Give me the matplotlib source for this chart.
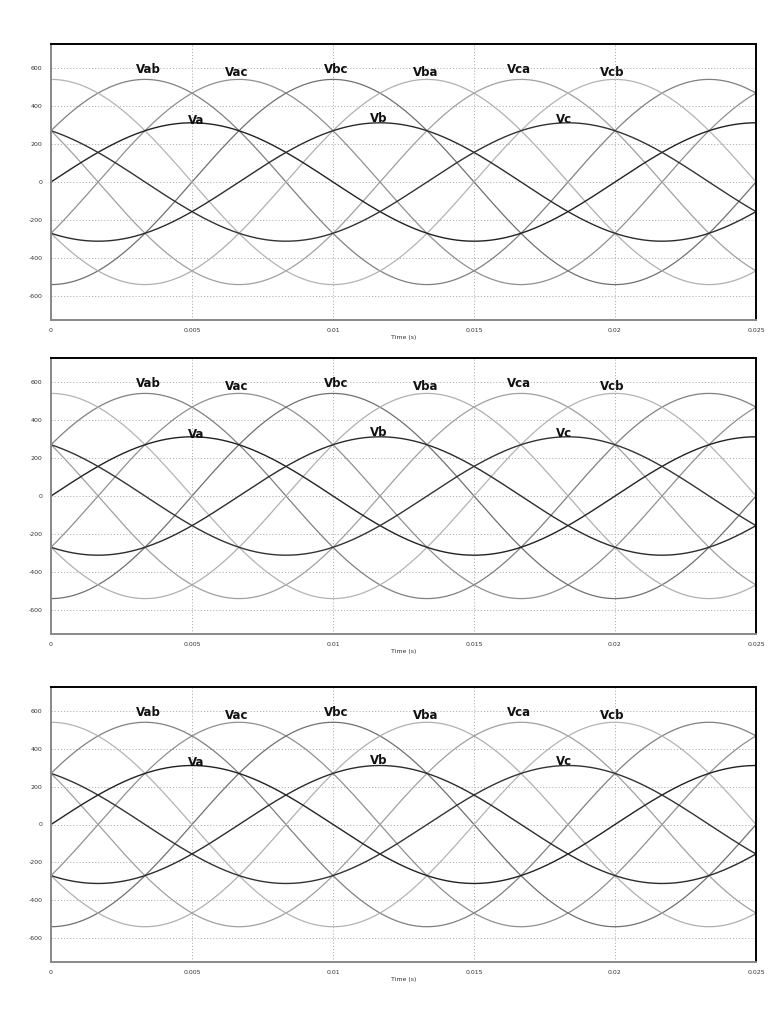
import numpy as np
import matplotlib
matplotlib.use("Agg")
import matplotlib.pyplot as plt

# ---- data ----
freq_hz = 50.0
t_end = 0.025

phase_names = ["Va", "Vb", "Vc"]
phase_peak = [311, 311, 311]
phase_shift_deg = [0, -120, 120]
phase_colors = ["#222222", "#2c2c2c", "#333333"]

line_names = ["Vab", "Vac", "Vbc", "Vba", "Vca", "Vcb"]
line_peak = [539, 539, 539, 539, 539, 539]
line_shift_deg = [30, -30, -90, -150, 150, 90]
line_colors = ["#808080", "#909090", "#707070", "#b0b0b0", "#a0a0a0", "#b4b4b4"]

label_names = ["Vab", "Vac", "Vbc", "Vba", "Vca", "Vcb", "Va", "Vb", "Vc"]
label_x = [0.00344, 0.0066, 0.0101, 0.0133, 0.0166, 0.0199, 0.00514, 0.01163, 0.0182]
label_y = [590, 575, 590, 575, 590, 575, 325, 335, 330]

xticks = [0, 0.005, 0.01, 0.015, 0.02, 0.025]
xtick_labels = ["0", "0.005", "0.01", "0.015", "0.02", "0.025"]
yticks = [-600, -400, -200, 0, 200, 400, 600]
ytick_labels = ["-600", "-400", "-200", "0", "200", "400", "600"]
xlabel_text = "Time (s)"

t = np.linspace(0, t_end, 1200)
w = 2 * np.pi * freq_hz

fig = plt.figure(figsize=(7.68, 10.24), dpi=100)
W, H = 768, 1024
panels = [(44, 320), (358, 634), (687, 962)]
left_px, right_px = 51, 756

for top, bot in panels:
    ax = fig.add_axes([left_px / W, 1 - bot / H, (right_px - left_px) / W, (bot - top) / H])
    for a, s, c in zip(line_peak, line_shift_deg, line_colors):
        ax.plot(t, a * np.sin(w * t + np.deg2rad(s)), color=c, lw=0.9)
    for a, s, c in zip(phase_peak, phase_shift_deg, phase_colors):
        ax.plot(t, a * np.sin(w * t + np.deg2rad(s)), color=c, lw=1.0)
    for n, x, y in zip(label_names, label_x, label_y):
        ax.text(x, y, n, ha="center", va="center", fontsize=8.5,
                fontweight="semibold", color="#111111")
    ax.set_xlim(0, t_end)
    ax.set_ylim(-725, 725)
    ax.set_xticks(xticks)
    ax.set_xticklabels(xtick_labels)
    ax.set_yticks(yticks)
    ax.set_yticklabels(ytick_labels)
    ax.tick_params(length=0, labelsize=4.5, labelcolor="#333333", pad=6)
    ax.grid(True, linestyle=(0, (1.2, 2)), color="#b0b0b0", lw=0.7)
    for sp in ["top", "right"]:
        ax.spines[sp].set_color("black")
        ax.spines[sp].set_linewidth(1.4)
    for sp in ["left", "bottom"]:
        ax.spines[sp].set_color("#888888")
        ax.spines[sp].set_linewidth(1.4)
    ax.annotate(xlabel_text, xy=(0.0125, 0), xycoords=("data", "axes fraction"),
                xytext=(0, -11), textcoords="offset points", ha="center", va="top",
                fontsize=4.5, color="#333333")

fig.savefig("out.png", dpi=100)
